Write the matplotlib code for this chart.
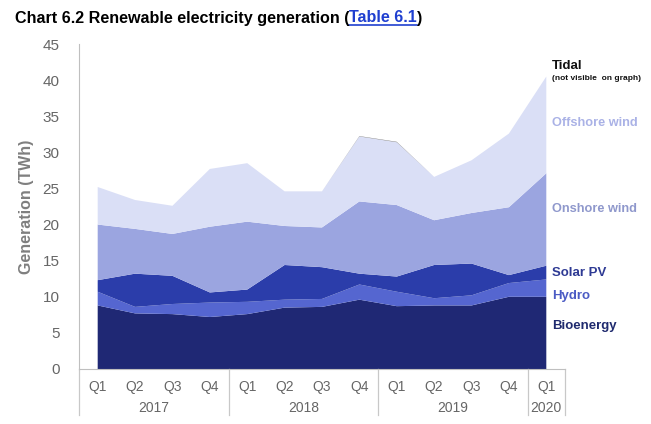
import numpy as np
import matplotlib.pyplot as plt

# Datos (TWh por trimestre)
trimestres = ["Q1", "Q2", "Q3", "Q4", "Q1", "Q2", "Q3", "Q4", "Q1", "Q2", "Q3", "Q4", "Q1"]
anios = ["2017", "2018", "2019", "2020"]
bioenergia = [8.8, 7.7, 7.6, 7.2, 7.6, 8.5, 8.6, 9.6, 8.7, 8.8, 8.8, 10.0, 10.0]
hidro = [1.9, 0.9, 1.4, 2.0, 1.7, 1.1, 1.1, 2.1, 2.0, 1.0, 1.4, 1.9, 2.4]
solar = [1.6, 4.6, 3.9, 1.4, 1.7, 4.8, 4.4, 1.5, 2.1, 4.6, 4.4, 1.1, 1.9]
eolica_tierra = [7.7, 6.2, 5.8, 9.1, 9.4, 5.4, 5.5, 10.0, 9.9, 6.2, 7.0, 9.4, 12.8]
eolica_mar = [5.2, 4.0, 3.9, 8.0, 8.1, 4.8, 5.0, 9.0, 8.7, 6.0, 7.3, 10.2, 13.4]
mareomotriz = [0.0, 0.0, 0.0, 0.0, 0.0, 0.0, 0.0, 0.05, 0.06, 0.0, 0.0, 0.0, 0.0]

plt.rcParams['font.family'] = ['Liberation Sans', 'DejaVu Sans']

colores = ['#1f2874', '#5566d0', '#2b3daa', '#9ba5e0', '#dadff6', '#777777']

fig = plt.figure(figsize=(6.51, 4.24), dpi=100)
ax = fig.add_axes([79 / 651, 55 / 424, 486 / 651, 325 / 424])

x = np.arange(len(trimestres))
ax.stackplot(x, bioenergia, hidro, solar, eolica_tierra, eolica_mar, mareomotriz,
             colors=colores, linewidth=0)

ax.set_xlim(-0.5, 12.5)
ax.set_ylim(0, 45)
ax.set_yticks(np.arange(0, 46, 5))
ax.set_xticks(x)
ax.set_xticklabels(trimestres)
ax.tick_params(axis='both', length=0, colors='#666666')
ax.tick_params(axis='x', pad=8, labelsize=10)
ax.tick_params(axis='y', pad=14, labelsize=11)
for s in ['top', 'right']:
    ax.spines[s].set_visible(False)
for s in ['left', 'bottom']:
    ax.spines[s].set_color('#bfbfbf')
ax.set_ylabel("Generation (TWh)", color='#7f7f7f', fontsize=11.5, fontweight='bold', labelpad=6)

# separadores de año y etiquetas
tr = ax.get_xaxis_transform()
for xs in [-0.5, 3.5, 7.5, 11.5, 12.5]:
    ax.plot([xs, xs], [0, -0.142], transform=tr, color='#c8c8c8', lw=0.9, clip_on=False)
for xc, a in zip([1.5, 5.5, 9.5, 12.0], anios):
    ax.text(xc, -0.12, a, transform=tr, ha='center', va='center', fontsize=10, color='#666666')

# etiquetas de las series
ty = ax.get_yaxis_transform()
xl = (552 - 79) / 486
ax.text(xl, 41.9, "Tidal", transform=ty, fontsize=9.5, fontweight='bold', color='#111111', va='center')
ax.text(xl, 40.2, "(not visible  on graph)", transform=ty, fontsize=6, fontweight='bold', color='#111111', va='center')
ax.text(xl, 34.1, "Offshore wind", transform=ty, fontsize=9.2, fontweight='bold', color='#aab2e6', va='center')
ax.text(xl, 22.2, "Onshore wind", transform=ty, fontsize=9.2, fontweight='bold', color='#8f98cc', va='center')
ax.text(xl, 13.3, "Solar PV", transform=ty, fontsize=9.5, fontweight='bold', color='#2e3a94', va='center')
ax.text(xl, 10.1, "Hydro", transform=ty, fontsize=9.5, fontweight='bold', color='#4b5bc4', va='center')
ax.text(xl, 6.0, "Bioenergy", transform=ty, fontsize=9.5, fontweight='bold', color='#1f2a6e', va='center')

# título con enlace
fig.canvas.draw()
r = fig.canvas.get_renderer()
ty_t = 1 - 18 / 424
t1 = fig.text(15 / 651, ty_t, "Chart 6.2 Renewable electricity generation (",
              fontsize=11.6, fontweight='bold', color='black', va='center')
bb = t1.get_window_extent(r)
t2 = fig.text(bb.x1 / 651, ty_t, "Table 6.1", fontsize=11.6, fontweight='bold',
              color='#1f3fd0', va='center')
bb2 = t2.get_window_extent(r)
fig.text(bb2.x1 / 651, ty_t, ")", fontsize=11.6, fontweight='bold', color='black', va='center')
fig.add_artist(plt.Line2D([bb2.x0 / 651, bb2.x1 / 651], [(bb2.y0 + 1) / 424] * 2,
                          color='#1f3fd0', lw=1.2))

plt.savefig("out.png", dpi=100)
plt.close()
